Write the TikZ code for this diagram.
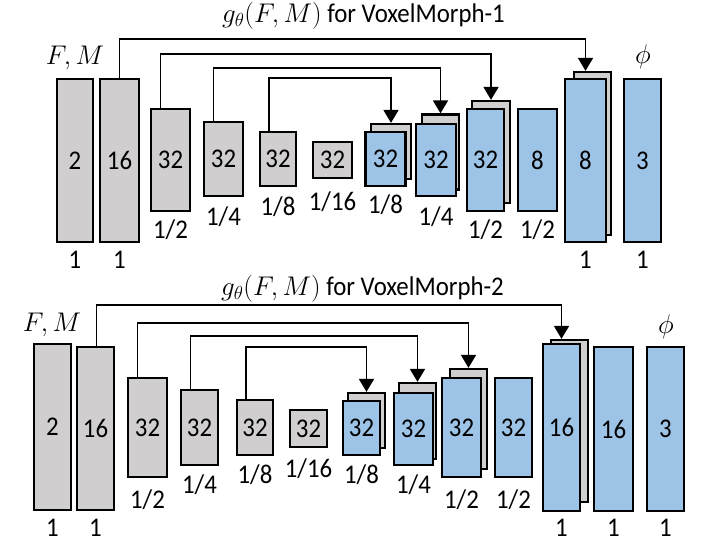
\RequirePackage{fix-cm}
\documentclass[tikz,border=0pt]{standalone}
\usepackage{fontspec}
\setmainfont{Carlito}[FakeStretch=0.92]
\usetikzlibrary{arrows.meta}
\definecolor{boxgray}{HTML}{D0CECE}
\definecolor{boxblue}{HTML}{9DC3E6}
\newcommand\mybox[6]{\node[#1, minimum width=#4pt, minimum height=#5pt] (#2) at (#3) {#6};}
\begin{document}
\begin{tikzpicture}[x=1pt,y=-1pt,
  blk/.style={draw=black, line width=2.3pt, inner sep=0pt, font=\fontsize{27}{32}\selectfont},
  gblk/.style={blk, fill=boxgray},
  bblk/.style={blk, fill=boxblue},
  lbl/.style={inner sep=0pt, font=\fontsize{27}{32}\selectfont},
  skip/.style={draw=black, line width=1.8pt, -{Triangle[width=15pt,length=13pt]}},
]
\useasboundingbox (0,0) rectangle (709,552);
\fill[white] (0,0) rectangle (709,552);

% ---------------- top: VoxelMorph-1
\node[lbl] (title1) at (363.5,16) {$g_\theta(F,M)$ for VoxelMorph-1};
\node[lbl] (fm1) at (75,58) {$F,M$};
\node[lbl] (phi1) at (643,57) {$\phi$};

\mybox{gblk}{t1}{75,160.5}{36}{163}{2}
\mybox{gblk}{t2}{119.5,160.5}{39}{163}{16}
\mybox{gblk}{t3}{170.5,160}{39}{102}{32}
\mybox{gblk}{t4}{223.5,159}{39}{74}{32}
\mybox{gblk}{t5}{278,159}{36}{54}{32}
\mybox{gblk}{t6}{332.5,160}{39}{36}{32}
\mybox{gblk}{t7b}{391,151.5}{40}{55}{}
\mybox{bblk}{t7}{385.5,159}{40}{54}{32}
\mybox{gblk}{t8b}{440.5,152}{37}{75}{}
\mybox{bblk}{t8}{436,160}{40}{72}{32}
\mybox{gblk}{t9b}{491,152}{38}{102}{}
\mybox{bblk}{t9}{485.5,160}{37}{102}{32}
\mybox{bblk}{t10}{537.5,160}{39}{102}{8}
\mybox{gblk}{t11b}{592.5,153.5}{37}{163}{}
\mybox{bblk}{t11}{585.5,160.5}{41}{163}{8}
\mybox{bblk}{t12}{642.5,160.5}{37}{163}{3}

\node[lbl] (lt1) at (75,260) {1};
\node[lbl] (lt2) at (119.5,260) {1};
\node[lbl] (lt3) at (170.5,230) {1/2};
\node[lbl] (lt4) at (223.5,217) {1/4};
\node[lbl] (lt5) at (278,207) {1/8};
\node[lbl] (lt6) at (332.5,202) {1/16};
\node[lbl] (lt7) at (385.5,205) {1/8};
\node[lbl] (lt8) at (436,217) {1/4};
\node[lbl] (lt9) at (485.5,230) {1/2};
\node[lbl] (lt10) at (537.5,230) {1/2};
\node[lbl] (lt11) at (585.5,260) {1};
\node[lbl] (lt12) at (642.5,260) {1};

\coordinate (TL1) at (0,39);
\coordinate (TL2) at (0,54);
\coordinate (TL3) at (0,68);
\coordinate (TL4) at (0,78);
\coordinate (ts3) at ([xshift=-10pt]t3.north);
\coordinate (ts4) at ([xshift=-10pt]t4.north);
\coordinate (ts5) at ([xshift=-9pt]t5.north);
\draw[skip] (t2.north) -- (t2.north |- TL1) -| (t11.north |- t11b.north);
\draw[skip] (ts3) -- (ts3 |- TL2) -| (t9b.north);
\draw[skip] (ts4) -- (ts4 |- TL3) -| (t8b.north);
\draw[skip] (ts5) -- (ts5 |- TL4) -| (t7b.north);

% ---------------- bottom: VoxelMorph-2
\node[lbl] (title2) at (362.5,289) {$g_\theta(F,M)$ for VoxelMorph-2};
\node[lbl] (fm2) at (52,325) {$F,M$};
\node[lbl] (phi2) at (666,327) {$\phi$};

\mybox{gblk}{b1}{52.5,427}{37}{166}{2}
\mybox{gblk}{b2}{95.5,428.5}{37}{163}{16}
\mybox{gblk}{b3}{147.5,427.5}{39}{99}{32}
\mybox{gblk}{b4}{199.5,427.5}{37}{75}{32}
\mybox{gblk}{b5}{255,427.5}{36}{55}{32}
\mybox{gblk}{b6}{308.5,428.5}{37}{37}{32}
\mybox{gblk}{b7b}{366.5,420.5}{37}{55}{}
\mybox{bblk}{b7}{361.5,428}{37}{54}{32}
\mybox{gblk}{b8b}{417.5,421}{37}{76}{}
\mybox{bblk}{b8}{413.5,429}{39}{72}{32}
\mybox{gblk}{b9b}{468.5,419}{37}{100}{}
\mybox{bblk}{b9}{461.5,427.5}{39}{99}{32}
\mybox{bblk}{b10}{513.5,427.5}{37}{99}{32}
\mybox{gblk}{b11b}{569.5,421}{37}{162}{}
\mybox{bblk}{b11}{561.5,427.5}{37}{167}{16}
\mybox{bblk}{b12}{613.5,429}{39}{164}{16}
\mybox{bblk}{b13}{665.5,429}{37}{164}{3}

\node[lbl] (lb1) at (52.5,528) {1};
\node[lbl] (lb2) at (95.5,528) {1};
\node[lbl] (lb3) at (147.5,500) {1/2};
\node[lbl] (lb4) at (199.5,485) {1/4};
\node[lbl] (lb5) at (255,475) {1/8};
\node[lbl] (lb6) at (308.5,469) {1/16};
\node[lbl] (lb7) at (361.5,475) {1/8};
\node[lbl] (lb8) at (413.5,485) {1/4};
\node[lbl] (lb9) at (461.5,500) {1/2};
\node[lbl] (lb10) at (513.5,500) {1/2};
\node[lbl] (lb11) at (561.5,528) {1};
\node[lbl] (lb12) at (613.5,528) {1};
\node[lbl] (lb13) at (665.5,528) {1};

\coordinate (BL1) at (0,305);
\coordinate (BL2) at (0,323);
\coordinate (BL3) at (0,336);
\coordinate (BL4) at (0,347);
\coordinate (bs2) at ([xshift=1pt]b2.north);
\coordinate (bs3) at ([xshift=-10pt]b3.north);
\coordinate (bs4) at ([xshift=-9pt]b4.north);
\coordinate (bs5) at ([xshift=-9pt]b5.north);
\draw[skip] (bs2) -- (bs2 |- BL1) -| (b11.north |- b11b.north);
\draw[skip] (bs3) -- (bs3 |- BL2) -| (b9b.north);
\draw[skip] (bs4) -- (bs4 |- BL3) -| (b8b.north);
\draw[skip] (bs5) -- (bs5 |- BL4) -| (b7b.north);
\end{tikzpicture}
\end{document}
